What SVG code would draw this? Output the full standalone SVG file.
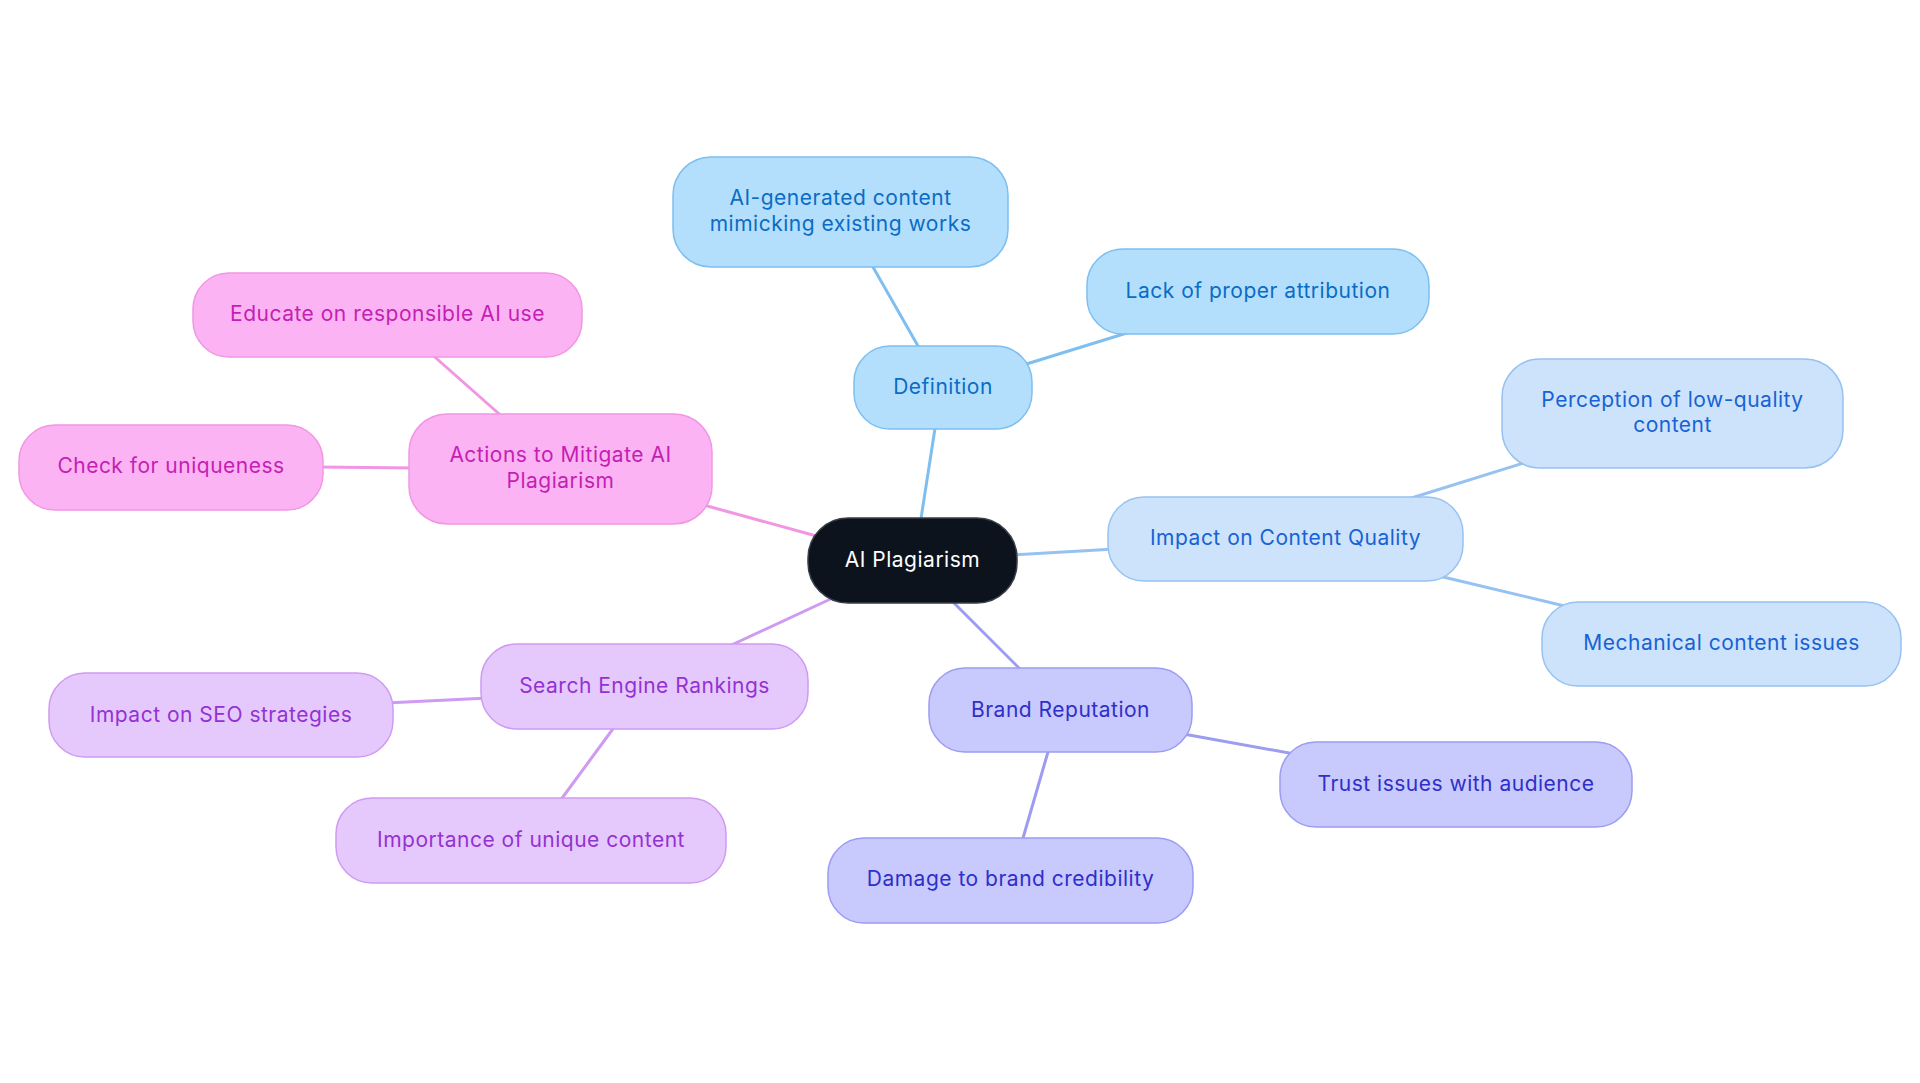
<svg xmlns="http://www.w3.org/2000/svg" width="1920" height="1083" viewBox="0 0 1920 1083">
<style>
text{font-family:Inter,"Noto Sans","Liberation Sans",sans-serif;font-size:21px;letter-spacing:0.5px;text-anchor:middle;}
.c{fill:none;stroke-width:3;stroke-linecap:round;}
.n{stroke-width:1.5;}
.root rect{fill:#0d131c;stroke:#3a3f47;}
.root text{fill:#ffffff;}
.b1 rect{fill:#b3dffc;stroke:#7ebfef;}
.b1 text{fill:#0b6cc4;}
.b2 rect{fill:#cde3fb;stroke:#96c2f1;}
.b2 text{fill:#1762d4;}
.b3 rect{fill:#c8c9fc;stroke:#9c9cf1;}
.b3 text{fill:#2f2fc9;}
.b4 rect{fill:#e6c9fc;stroke:#cf9af1;}
.b4 text{fill:#9332d3;}
.b5 rect{fill:#fcb3f4;stroke:#f196e3;}
.b5 text{fill:#c41fb3;}
</style>
<rect width="1920" height="1083" fill="#ffffff"/>
<g id="connectors">
<line class="c" stroke="#7ebfef" x1="920" y1="525" x2="936" y2="422"/>
<line class="c" stroke="#7ebfef" x1="922" y1="353" x2="869" y2="260"/>
<line class="c" stroke="#7ebfef" x1="1020" y1="366" x2="1130" y2="332"/>
<line class="c" stroke="#96c2f1" x1="1010" y1="555" x2="1115" y2="549"/>
<line class="c" stroke="#96c2f1" x1="1405" y1="500" x2="1530" y2="461"/>
<line class="c" stroke="#96c2f1" x1="1435" y1="575" x2="1573" y2="608"/>
<line class="c" stroke="#9c9cf1" x1="950" y1="599" x2="1024" y2="673"/>
<line class="c" stroke="#9c9cf1" x1="1178" y1="733" x2="1300" y2="755"/>
<line class="c" stroke="#9c9cf1" x1="1050" y1="745" x2="1021" y2="845"/>
<line class="c" stroke="#cf9af1" x1="837" y1="596" x2="725" y2="648"/>
<line class="c" stroke="#cf9af1" x1="488" y1="698" x2="386" y2="703"/>
<line class="c" stroke="#cf9af1" x1="618" y1="722" x2="557" y2="805"/>
<line class="c" stroke="#f196e3" x1="820" y1="537" x2="700" y2="504"/>
<line class="c" stroke="#f196e3" x1="506" y1="420" x2="428" y2="351"/>
<line class="c" stroke="#f196e3" x1="416" y1="468" x2="316" y2="467"/>
</g>
<g id="root" class="root"><rect class="n" x="808" y="518" width="209" height="85" rx="40"/><text x="912.5" y="567">AI Plagiarism</text></g>
<g id="definition" class="b1"><rect class="n" x="854" y="346" width="178" height="83" rx="36"/><text x="943" y="394">Definition</text></g>
<g id="ai-generated" class="b1"><rect class="n" x="673" y="157" width="335" height="110" rx="38"/><text x="840.5" y="205">AI-generated content</text><text x="840.5" y="231">mimicking existing works</text></g>
<g id="lack-attribution" class="b1"><rect class="n" x="1087" y="249" width="342" height="85" rx="36"/><text x="1258" y="298">Lack of proper attribution</text></g>
<g id="content-quality" class="b2"><rect class="n" x="1108" y="497" width="355" height="84" rx="36"/><text x="1285.5" y="545">Impact on Content Quality</text></g>
<g id="perception" class="b2"><rect class="n" x="1502" y="359" width="341" height="109" rx="38"/><text x="1672.5" y="407">Perception of low-quality</text><text x="1672.5" y="432">content</text></g>
<g id="mechanical" class="b2"><rect class="n" x="1542" y="602" width="359" height="84" rx="36"/><text x="1721.5" y="650">Mechanical content issues</text></g>
<g id="brand-reputation" class="b3"><rect class="n" x="929" y="668" width="263" height="84" rx="36"/><text x="1060.5" y="717">Brand Reputation</text></g>
<g id="trust-issues" class="b3"><rect class="n" x="1280" y="742" width="352" height="85" rx="36"/><text x="1456" y="791">Trust issues with audience</text></g>
<g id="damage-credibility" class="b3"><rect class="n" x="828" y="838" width="365" height="85" rx="36"/><text x="1010.5" y="886">Damage to brand credibility</text></g>
<g id="search-rankings" class="b4"><rect class="n" x="481" y="644" width="327" height="85" rx="36"/><text x="644.5" y="693">Search Engine Rankings</text></g>
<g id="seo-strategies" class="b4"><rect class="n" x="49" y="673" width="344" height="84" rx="36"/><text x="221" y="722">Impact on SEO strategies</text></g>
<g id="unique-content" class="b4"><rect class="n" x="336" y="798" width="390" height="85" rx="36"/><text x="531" y="847">Importance of unique content</text></g>
<g id="mitigate" class="b5"><rect class="n" x="409" y="414" width="303" height="110" rx="38"/><text x="560.5" y="462">Actions to Mitigate AI</text><text x="560.5" y="488">Plagiarism</text></g>
<g id="educate" class="b5"><rect class="n" x="193" y="273" width="389" height="84" rx="36"/><text x="387.5" y="321">Educate on responsible AI use</text></g>
<g id="uniqueness" class="b5"><rect class="n" x="19" y="425" width="304" height="85" rx="36"/><text x="171" y="473">Check for uniqueness</text></g>
</svg>
